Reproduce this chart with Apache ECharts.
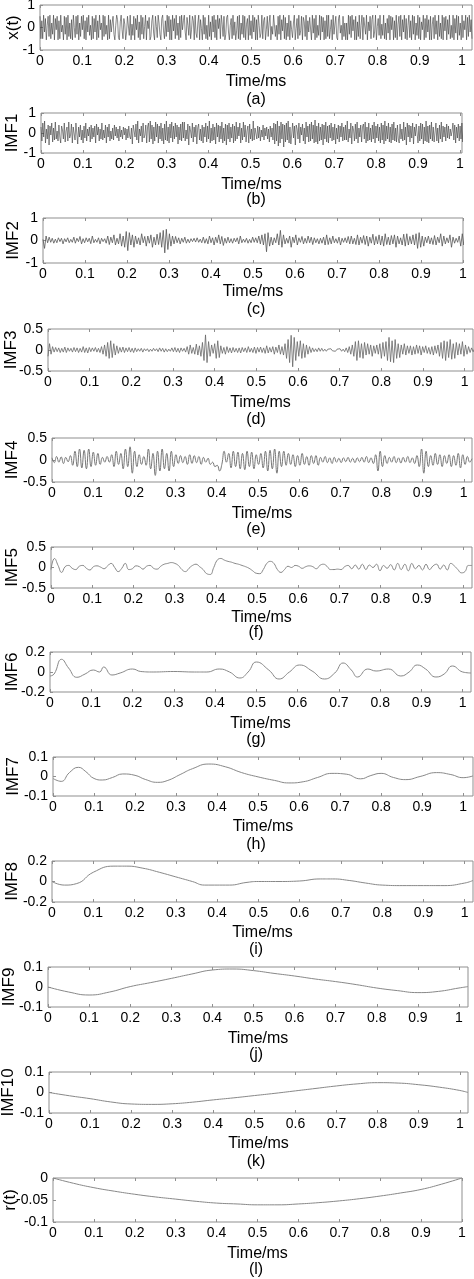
<!DOCTYPE html>
<html>
<head>
<meta charset="utf-8">
<script src="https://cdn.jsdelivr.net/npm/echarts@6/dist/echarts.min.js"></script>
<style>
html,body{margin:0;padding:0;background:#fff}
#main{width:474px;height:1279px}
</style>
</head>
<body>
<div id="main"></div>
<script>
var FONT='"Liberation Sans", Arial, sans-serif';

// ---- data ----
var xTickVals=[0,0.1,0.2,0.3,0.4,0.5,0.6,0.7,0.8,0.9,1];
var yNames=['x(t)','IMF1','IMF2','IMF3','IMF4','IMF5','IMF6','IMF7','IMF8','IMF9','IMF10','r(t)'];
var tags=['(a)','(b)','(c)','(d)','(e)','(f)','(g)','(h)','(i)','(j)','(k)','(l)'];
// [min,max,interval]
var yRanges=[[-1,1,1],[-1,1,1],[-1,1,1],[-0.5,0.5,0.5],[-0.5,0.5,0.5],[-0.5,0.5,0.5],
  [-0.2,0.2,0.2],[-0.1,0.1,0.1],[-0.2,0.2,0.2],[-0.1,0.1,0.1],[-0.1,0.1,0.1],[-0.1,0,0.05]];
var xMaxes=[1.024,1.005,1.0,1.02,1.02,1.022,1.02,1.024,1.02,1.022,1.02,1.0];

// x(t), sampled evenly over 0..1.024 ms
var xt=[.5,-.5,.3,-.5,.55,-.2,.4,-.55,.1,.5,-.4,.55,-.5,.2,-.3,.55,-.55,.4,-.1,.5,
-.55,.3,-.5,.55,-.2,.1,-.55,.5,-.3,.45,-.55,.55,-.4,.2,-.5,.35,-.55,.55,0,-.45,
.5,-.3,.55,-.55,.2,-.4,.5,-.1,.55,-.5,.3,-.55,.45,-.2,.55,-.35,.1,-.55,.5,-.5,
.4,-.2,.55,-.55,.3,-.45,.55,-.1,.2,-.55,.55,-.4,.5,-.3,.1,-.55,.55,-.5,.35,-.2,
.2,.5,-.3,-.55,.1,.55,.35,-.45,-.55,.25,.55,-.1,-.5,.4,.15,-.55,-.2,.5,.55,-.35,
.55,-.55,.15,-.35,.5,-.55,.4,-.1,.55,-.45,.25,-.55,.55,-.3,.45,-.5,.05,.55,-.55,.3,
-.05,.45,-.55,-.4,.3,.55,-.25,-.55,.5,.05,-.45,.55,.2,-.3,-.55,.4,.55,-.15,-.5,.3,
-.4,.55,-.2,.5,-.55,.35,-.55,.55,-.15,.4,-.5,.55,-.35,.2,-.55,.5,-.45,.55,-.1,.3,
.55,-.2,-.55,.45,.1,-.35,.55,-.5,-.1,.5,.3,-.55,.55,-.25,-.45,.2,.55,-.55,.35,-.05,
-.55,.55,-.3,.45,-.5,.1,-.55,.55,-.4,.25,-.55,.5,-.2,.55,-.45,.35,-.55,.55,-.05,.4,
-.5,.55,.15,-.4,.5,-.55,-.3,.45,.55,-.2,-.55,.1,.4,-.5,.55,-.35,.25,-.55,-.15,.5,
-.5,.55,-.55,.2,-.3,.55,-.45,.5,-.55,.15,.4,-.55,.55,-.35,.3,-.5,.55,-.2,.45,-.55,
.35,-.55,.55,.1,-.45,-.25,.55,-.5,.3,.45,-.55,-.1,.5,-.4,.2,.55,-.55,.05,-.3,.55,
.55,-.4,.1,-.55,.5,-.3,.55,-.55,.35,-.15,.55,-.5,.45,-.55,.2,-.4,.55,-.55,.3,-.1,
-.45,.2,.55,-.55,-.05,.4,-.5,.55,-.35,-.15,.5,-.55,.45,.25,-.4,.55,-.55,.3,-.2,.45,
.5,-.55,.55,-.25,.4,-.55,.55,-.45,.1,-.35,.55,-.55,.5,-.2,.45,-.55,.3,-.5,.55,-.4,
.55,-.5,-.1,.35,-.55,.55,-.3,.15,.5,-.45,-.55,.4,.55,-.25,.1,-.55,.5,-.4,.2,-.55,
.2,-.55,.55,-.3,.5,-.45,.55,-.15,.35,-.55,.5,-.55,.25,-.4,.55,-.5,.1,.55,-.55,.45,
.45,-.3,.55,-.55,.25,-.15,.5,-.5,.35,.55,-.45,-.2,.55,-.55,.05,.4,-.35,.55,-.5,.15,
-.35,.55,-.5,.2,-.55,.4,-.25,.55,-.55,.5,-.1,.45,-.55,.3,-.45,.55,-.55,.15,.5,-.4,
.55,-.55,.35,-.2,.55,-.5,.4,-.55,.1,.55,-.45,.3,-.55,.55,-.3,.5,-.55,.2,-.35,.55,
-.5,.45,-.55,.25,-.1,.55,-.55,.4,-.45,.55,-.2,.35,-.55,.5,-.55,.15,.45,-.5,.55,-.3,
.3,-.55,.55,-.4,.2,-.5,.55,-.55,.45,-.15,.5,-.55,.35,-.3,.55,-.5,.1,-.45,.55,-.55,
.4,-.25,.55,-.55,.5,-.35,.2,-.55,.55,-.45,.3,-.1,.55,-.55,.45,-.4,.55,-.2,.35,-.5];

var imf1=[.3,-.4,.5,-.2,.6,-.5,.2,-.3,.4,-.6,.35,-.1,.5,-.45,.25,-.35,.55,-.3,.1,-.4,
.4,-.2,-.5,.35,.15,-.3,.5,-.45,.1,.3,-.4,.55,-.25,-.1,.45,-.5,.3,.2,-.35,.5,
.45,-.55,.3,-.2,.4,-.35,.15,-.5,.35,-.25,.5,-.4,.2,-.15,.3,-.45,.4,-.3,.25,-.2,
.35,-.5,.45,-.1,.3,-.4,.2,-.3,.5,-.35,.15,-.25,.4,-.5,.3,-.2,.45,-.4,.1,-.3,
.25,-.35,.4,-.15,.3,-.25,.2,-.4,.35,-.2,.15,-.3,.3,-.1,.25,-.35,.2,-.25,.35,-.15,
-.3,.25,-.55,.4,.1,-.2,.45,-.35,.6,-.5,.2,-.15,.35,-.45,.5,-.25,-.1,.4,-.5,.3,
.5,-.45,.6,-.3,.4,-.55,.3,-.4,.55,-.2,.45,-.5,.35,-.3,.5,-.4,.25,-.55,.45,-.35,
.6,-.4,.3,-.5,.45,-.25,.55,-.45,.35,-.3,.5,-.2,.4,-.55,.3,-.35,.45,-.4,.55,-.25,
.55,-.4,.15,-.3,.45,-.6,.35,.1,-.25,.5,-.45,.3,-.2,.4,-.55,.25,.45,-.35,.2,-.4,
.4,-.5,.3,-.2,.5,-.45,.35,-.3,.6,-.5,.25,-.4,.45,-.35,.3,-.55,.5,-.2,.4,-.45,
.35,-.3,.55,-.5,.25,-.4,.45,-.6,.4,-.3,.5,-.45,.3,-.25,.45,-.5,.35,-.4,.55,-.3,
.3,-.15,.5,-.5,.25,-.35,.55,-.2,.4,-.45,.1,.35,-.5,.45,-.3,.2,-.4,.6,-.35,.25,
.2,-.3,.35,-.25,.3,-.4,.15,-.2,.4,-.35,.25,-.15,.3,-.3,.2,-.45,.35,-.2,.25,-.35,
.5,-.55,.45,-.4,.6,-.65,.35,-.5,.55,-.3,.45,-.7,.4,-.45,.5,-.35,.6,-.5,.3,-.55,
-.45,.5,-.25,.35,-.6,.4,.2,-.3,.5,-.5,.3,-.1,.45,-.4,.25,-.55,.55,-.2,.35,-.45,
.45,-.4,.55,-.3,.4,-.5,.65,-.45,.35,-.55,.5,-.4,.3,-.35,.45,-.6,.4,-.3,.55,-.45,
.35,-.5,.4,-.25,.5,-.4,.3,-.35,.45,-.55,.25,-.3,.4,-.45,.35,-.2,.5,-.4,.3,-.35,
.4,-.35,.6,-.45,.2,-.25,.5,-.55,.35,.15,-.4,.45,-.3,.55,-.5,.25,-.2,.4,-.45,.3,
.45,-.3,.55,-.5,.3,-.4,.5,-.35,.25,-.45,.4,-.3,.55,-.5,.35,-.25,.45,-.4,.3,-.5,
.5,-.35,.4,-.55,.6,-.4,.35,-.3,.5,-.45,.3,-.5,.45,-.35,.55,-.4,.25,-.45,.4,-.3,
-.5,.45,-.3,.2,-.4,.55,-.35,.3,-.6,.5,-.2,.4,-.45,.35,-.25,.5,-.55,.3,-.15,.45,
.55,-.5,.35,-.4,.5,-.3,.45,-.55,.3,-.4,.6,-.45,.35,-.5,.4,-.3,.55,-.4,.3,-.45,
-.35,.5,-.4,.25,-.5,.4,-.3,.55,-.45,.35,-.2,.3,-.4,.45,-.25,.35,-.3,.2,-.15,.1,
.5,-.35,.4,-.5,.3,-.25,.45,-.4,.35,-.3,.5,-.45,.3,-.35,.4,-.25,.35,-.3,.2,-.1];

var imf2=[.05,-.35,.2,-.1,.15,-.08,.1,-.12,.06,-.1,.12,-.05,.1,-.15,.08,-.06,.12,-.1,.05,-.08,
.15,-.12,.1,-.05,.18,-.15,.08,-.1,.12,-.06,.1,-.14,.2,-.1,.05,-.08,.12,-.15,.1,-.05,
.08,-.12,.2,-.18,.15,-.1,.25,-.2,.1,-.15,.3,-.25,.2,-.3,.4,-.45,.35,-.2,.25,-.3,
.2,-.15,.12,-.2,.3,-.1,.18,-.25,.2,-.12,.25,-.3,.15,-.2,.28,-.18,.35,-.3,.45,-.55,
.5,-.4,.3,-.25,.2,-.15,.18,-.1,.12,-.15,.1,-.08,.15,-.12,.06,-.1,.08,-.05,.1,-.07,
.12,-.08,.06,-.1,.15,-.12,.08,-.15,.2,-.1,.12,-.2,.15,-.1,.25,-.15,.18,-.22,.1,-.12,
.15,-.1,.08,-.12,.1,-.06,.12,-.15,.2,-.1,.06,-.08,.1,-.12,.05,-.1,.15,-.08,.12,-.1,
.2,-.15,.25,-.2,.3,-.5,.35,-.25,.15,-.2,.12,-.1,.3,-.2,.45,-.3,.25,-.15,.1,-.12,
.2,-.3,.15,-.1,.25,-.2,.12,-.08,.18,-.15,.1,-.12,.2,-.1,.15,-.18,.12,-.1,.08,-.15,
.1,-.12,.15,-.2,.25,-.18,.12,-.15,.2,-.1,.08,-.12,.15,-.2,.1,-.08,.12,-.1,.18,-.15,
.2,-.15,.1,-.18,.25,-.2,.15,-.12,.22,-.18,.2,-.25,.15,-.12,.28,-.2,.18,-.15,.25,-.2,
.2,-.25,.3,-.18,.15,-.2,.22,-.15,.25,-.3,.2,-.15,.12,-.2,.28,-.25,.3,-.2,.18,-.15,
.25,-.2,.3,-.35,.35,-.3,.2,-.25,.15,-.1,.2,-.15,.12,-.18,.22,-.2,.15,-.1,.3,-.25,
.2,-.15,.12,-.1,.25,-.3,.15,-.12,.1,-.08,.2,-.25,.3,-.2,.15,-.1,.2,-.15,.1,0];

var imf3=[-.15,.15,-.1,.08,-.05,.06,-.04,.05,-.06,.04,-.05,.07,-.06,.05,-.03,.04,-.05,.06,-.04,.05,
-.06,.04,-.05,.08,-.06,.05,-.07,.06,-.04,.05,-.03,.06,-.05,.04,-.06,.08,-.1,.12,-.15,.18,
-.2,.22,-.18,.15,-.12,.1,-.08,.06,-.05,.07,-.06,.05,-.04,.06,-.05,.04,-.06,.05,-.04,.03,
-.03,.04,-.05,.03,-.02,.03,-.04,.02,-.03,.04,-.02,.03,-.04,.05,-.03,.04,-.05,.03,-.04,.02,
-.03,.05,-.04,.06,-.05,.04,-.06,.05,-.03,.04,-.05,.08,-.1,.12,-.08,.06,-.1,.14,-.12,.1,
-.15,.18,-.25,.36,-.3,.2,-.15,.12,-.08,.15,-.2,.22,-.18,.1,-.08,.06,-.1,.08,-.06,.05,
-.07,.06,-.05,.04,-.06,.05,-.07,.06,-.04,.05,-.06,.08,-.05,.04,-.06,.07,-.08,.06,-.05,.07,
-.06,.05,-.08,.1,-.07,.06,-.05,.08,-.1,.07,-.06,.12,-.1,.08,-.12,.15,-.2,.25,-.3,.35,
-.4,.3,-.25,.2,-.15,.22,-.2,.15,-.18,.12,-.1,.08,-.06,.05,-.04,.03,-.04,.05,-.03,.04,
-.03,.02,-.03,.02,-.02,.03,-.02,.02,-.03,.02,-.02,.03,-.03,.02,-.04,.05,-.06,.08,-.1,.12,
-.15,.2,-.25,.22,-.18,.15,-.2,.18,-.12,.15,-.1,.12,-.15,.1,-.08,.12,-.1,.15,-.2,.18,
-.15,.2,-.25,.3,-.28,.22,-.3,.25,-.2,.15,-.18,.12,-.1,.15,-.12,.1,-.08,.1,-.12,.08,
-.1,.12,-.08,.1,-.12,.08,-.06,.1,-.08,.06,-.1,.08,-.12,.1,-.08,.12,-.15,.18,-.2,.22,
-.25,.2,-.18,.25,-.22,.15,-.2,.18,-.12,.15,-.1,.2,-.15,.12,-.1,.08,-.06,.05,-.04,.03];

var imf4=[.05,-.06,.08,-.05,.07,-.08,.06,-.04,.1,-.12,.2,-.15,.25,-.18,.22,-.2,.25,-.15,.18,-.12,
.15,-.1,.06,-.05,.08,-.05,.12,-.15,.2,-.1,.15,-.2,.25,-.15,.3,-.3,.2,-.15,.12,-.1,
.08,-.12,.25,-.2,.15,-.35,.2,-.25,.25,-.2,.15,-.25,.2,-.15,.12,-.08,.1,-.06,.08,-.1,
.12,-.08,.1,-.06,.08,-.1,.06,-.05,.04,-.1,-.05,-.15,-.12,-.25,-.1,.2,-.05,.15,-.18,.2,
-.15,.18,-.2,.15,-.22,.2,-.15,.18,-.2,.12,-.1,.15,-.18,.2,-.25,.22,-.2,.25,-.3,.2,
-.15,.2,-.12,.15,-.1,.12,-.15,.1,-.12,.15,-.1,.08,-.12,.1,-.08,.1,-.12,.06,-.05,.08,
-.06,.05,-.08,.06,-.05,.04,-.06,.05,-.04,.06,-.05,.04,-.06,.05,-.04,.06,-.05,.08,-.06,.05,
-.08,.12,-.25,.2,-.15,.1,-.08,.06,-.05,.08,-.06,.05,-.07,.06,-.05,.08,-.06,.05,-.08,.1,
-.15,.25,-.3,.2,-.15,.1,-.12,.15,-.1,.12,-.15,.1,-.08,.12,-.15,.1,-.12,.15,-.18,.12,
-.1,.08,-.05,.03];

var imf5=[-.05,.22,.05,-.12,.02,.05,-.02,-.05,.03,.05,-.02,-.06,.02,.04,.01,-.03,.04,.1,0,-.1,
-.02,.1,-.05,-.03,.04,.02,-.04,.03,.05,-.02,-.04,.03,.08,.1,.12,.1,.05,-.05,-.1,-.02,
.05,.08,.02,-.05,-.15,-.17,0,.18,.22,.18,.15,.13,.1,.08,.05,.02,-.02,-.08,-.14,-.15,
-.05,.1,.15,.1,-.05,-.12,-.05,.03,0,.05,.03,-.02,.02,.04,.02,-.03,.05,.08,.03,-.05,
-.05,-.04,-.05,.02,.05,-.03,.06,-.04,.08,-.05,.06,0,.08,-.08,.05,-.02,.07,-.06,.1,-.05,
.08,-.08,.1,-.03,.05,-.06,.08,-.05,.04,.08,-.04,.06,-.06,.1,.04,-.05,-.13,-.1,.05,.05];

var imf6T=[0,.01,.028,.045,.065,.085,.105,.12,.13,.15,.17,.2,.22,.25,.3,.35,.38,.41,.435,.46,
.48,.5,.53,.555,.58,.605,.635,.665,.69,.71,.73,.745,.77,.79,.82,.85,.87,.89,.91,.935,.955,.975,1.0,1.02];
var imf6=[-.04,-.02,.127,.04,-.053,-.02,.02,0,.05,-.03,-.01,.03,.005,0,.005,0,0,.03,0,-.06,
0,.1,.02,-.07,0,.07,.01,-.07,-.01,.09,.02,-.05,.03,.01,.03,-.04,0,.07,.03,-.05,-.02,.06,0,-.01];

var imf7T=[0,.02,.04,.062,.08,.1,.12,.145,.17,.2,.225,.255,.28,.31,.34,.38,.42,.46,.5,.54,
.575,.61,.645,.68,.715,.75,.775,.8,.83,.86,.895,.935,.97,1.0,1.024];
var imf7=[-.01,-.025,.02,.047,.025,-.01,-.018,-.005,.013,.006,-.015,-.03,-.02,.01,.04,.064,.05,.02,-.002,-.02,
-.033,-.027,-.005,.016,.012,-.012,.005,.016,-.005,-.016,0,.02,.01,-.006,.003];

var imf8T=[0,.03,.06,.1,.15,.18,.22,.26,.3,.34,.37,.43,.47,.5,.55,.6,.65,.68,.72,.76,.8,.85,.9,.95,1.0,1.02];
var imf8=[0,-.035,-.02,.09,.15,.15,.13,.09,.045,0,-.035,-.035,-.01,0,0,.005,.025,.025,.01,-.015,-.035,-.04,-.04,-.04,-.015,.01];

var imf9T=[0,.05,.1,.15,.2,.25,.3,.35,.4,.45,.5,.55,.6,.65,.7,.75,.8,.85,.9,.95,1.0,1.022];
var imf9=[0,-.025,-.04,-.025,.002,.022,.043,.065,.085,.09,.082,.068,.055,.04,.027,.012,-.005,-.018,-.028,-.022,-.005,.002];

var imf10T=[0,.05,.1,.15,.2,.25,.3,.35,.4,.45,.5,.55,.6,.65,.7,.75,.8,.85,.9,.95,1.0,1.02];
var imf10=[0,-.016,-.03,-.046,-.056,-.058,-.055,-.047,-.036,-.026,-.015,-.004,.008,.02,.032,.042,.048,.046,.038,.026,.01,0];

var rtT=[0,.05,.1,.15,.2,.25,.3,.35,.4,.45,.5,.55,.6,.65,.7,.75,.8,.85,.9,.95,1.0];
var rt=[0,-.012,-.022,-.03,-.037,-.043,-.048,-.053,-.057,-.059,-.061,-.061,-.059,-.056,-.052,-.047,-.041,-.034,-.026,-.014,0];

// ---- layout ----
function even(vals,span){return vals.map(function(v,i){return [i*span/(vals.length-1),v];});}
function pair(ts,vals){return ts.map(function(t,i){return [t,vals[i]];});}

var seriesData=[even(xt,1.024),even(imf1,1.024),even(imf2,1.024),even(imf3,1.024),even(imf4,1.02),even(imf5,1.022),
  pair(imf6T,imf6),pair(imf7T,imf7),pair(imf8T,imf8),pair(imf9T,imf9),pair(imf10T,imf10),pair(rtT,rt)];

var boxes=[
  {l:40,t:5,w:432,h:45,yg:18.5,xg:23.7,tagY:100},
  {l:41,t:113,w:421,h:40,yg:20.5,xg:24,tagY:200},
  {l:43,t:218,w:420,h:45,yg:21.5,xg:20.7,tagY:310},
  {l:48,t:329,w:425,h:42,yg:28.5,xg:23.7,tagY:420},
  {l:52,t:438,w:420,h:44,yg:31.5,xg:24,tagY:530},
  {l:51,t:547,w:421,h:41,yg:30.5,xg:21.3,tagY:633},
  {l:50,t:652,w:421,h:40,yg:29.5,xg:23.3,tagY:740},
  {l:53,t:757,w:420,h:39,yg:31.5,xg:22.7,tagY:845},
  {l:52,t:861,w:421,h:41,yg:31.5,xg:22.7,tagY:950},
  {l:48,t:967,w:420,h:40,yg:30.5,xg:23.3,tagY:1055},
  {l:49,t:1072,w:419,h:41,yg:32.5,xg:22.3,tagY:1162},
  {l:53,t:1178,w:409,h:44,yg:34.5,xg:23.3,tagY:1270}
];
var lineColors=['#3a3a3a','#3a3a3a','#555','#666','#777','#888','#888','#888','#888','#888','#888','#888'];
var lineWidths=[0.6,0.6,0.8,0.8,1,1,1,1,1,1,1,1];
var frame='#8f8f8f';

var grids=[],xAxes=[],yAxes=[],series=[],graphics=[];
boxes.forEach(function(b,i){
  grids.push({left:b.l,top:b.t,width:b.w,height:b.h,containLabel:false,outerBoundsMode:'none',
    show:true,borderColor:frame,borderWidth:1,backgroundColor:'#fff'});
  xAxes.push({type:'value',gridIndex:i,min:0,max:xMaxes[i],
    name:'Time/ms',nameLocation:'middle',nameGap:b.xg,nameMoveOverlap:false,
    nameTextStyle:{fontSize:16,color:'#000',fontFamily:FONT},
    axisLine:{show:false,onZero:false},splitLine:{show:false},
    axisTick:{inside:true,length:3,lineStyle:{color:frame},customValues:xTickVals},
    axisLabel:{customValues:xTickVals,margin:4,fontSize:14,color:'#000',fontFamily:FONT}});
  xAxes.push({type:'value',gridIndex:i,position:'top',min:0,max:xMaxes[i],
    axisLine:{show:false,onZero:false},splitLine:{show:false},
    axisTick:{inside:true,length:3,lineStyle:{color:frame},customValues:xTickVals},
    axisLabel:{show:false}});
  yAxes.push({type:'value',gridIndex:i,min:yRanges[i][0],max:yRanges[i][1],interval:yRanges[i][2],
    name:yNames[i],nameLocation:'middle',nameRotate:90,nameGap:b.yg,nameMoveOverlap:false,
    nameTextStyle:{fontSize:17,color:'#000',fontFamily:FONT},
    axisLine:{show:false,onZero:false},splitLine:{show:false},
    axisTick:{inside:true,length:3,lineStyle:{color:frame}},
    axisLabel:{margin:5,fontSize:14,color:'#000',fontFamily:FONT}});
  series.push({type:'line',xAxisIndex:2*i,yAxisIndex:i,data:seriesData[i],
    symbol:'none',smooth:i>=4,clip:true,
    lineStyle:{width:lineWidths[i],color:lineColors[i]}});
  graphics.push({type:'text',x:256,y:b.tagY,
    style:{text:tags[i],font:'16px '+FONT,fill:'#000',textAlign:'center',textVerticalAlign:'middle'}});
});

var myChart=echarts.init(document.getElementById('main'));
myChart.setOption({
  animation:false,
  grid:grids,xAxis:xAxes,yAxis:yAxes,series:series,graphic:graphics
});
</script>
</body>
</html>
